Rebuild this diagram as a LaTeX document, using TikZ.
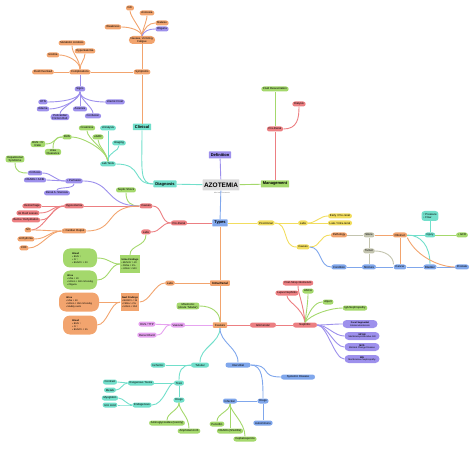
\documentclass[tikz,border=0pt]{standalone}
\usepackage{fontspec}
\setmainfont{Liberation Sans}
\usepackage{amsmath,amssymb}
\usetikzlibrary{shapes.geometric,arrows.meta,calc}
\definecolor{cOrange}{HTML}{F2A46E}
\definecolor{cPurple}{HTML}{9D90EC}
\definecolor{cTeal}{HTML}{72DFCB}
\definecolor{cGreen}{HTML}{A4D86C}
\definecolor{cRed}{HTML}{EC7F82}
\definecolor{cYellow}{HTML}{F2DD5E}
\definecolor{cBlue}{HTML}{80A7EC}
\definecolor{cGray}{HTML}{C3C4AF}
\definecolor{cPink}{HTML}{E6A3F0}
\definecolor{cCore}{HTML}{DADADA}
\newcommand{\arrup}{↑}
\newcommand{\arrdn}{↓}

\begin{document}
\begin{tikzpicture}[x=1pt, y=-1pt,
        leaf/.style={
            rectangle,
            rounded corners=2.4pt,
            inner xsep=1.8pt, inner ysep=0.5pt,
            minimum height=5pt,
            font=\fontsize{2.8}{3.2}\selectfont,
            align=center
        },
        hub/.style={
            rectangle,
            rounded corners=0.6pt,
            inner xsep=2pt, inner ysep=0.8pt,
            minimum height=7pt,
            font=\fontsize{4}{4.5}\selectfont\bfseries
        },
        bubble/.style={
            rectangle, rounded corners=7pt,
            inner xsep=3.5pt, inner ysep=1.5pt,
            minimum width=34pt, minimum height=19pt,
            font=\fontsize{2.4}{3}\selectfont, align=left
        },
        listbox/.style={
            rectangle, inner xsep=1.5pt, inner ysep=1.5pt,
            minimum height=18pt,
            font=\fontsize{2.4}{3}\selectfont, align=left
        },
        pill/.style={
            rectangle, rounded corners=4pt,
            inner xsep=3pt, inner ysep=0.8pt,
            minimum width=35pt, minimum height=8pt,
            font=\fontsize{2.3}{2.8}\selectfont, align=center
        },
        orleaf/.style={leaf, fill=cOrange},
        puleaf/.style={leaf, fill=cPurple},
        teleaf/.style={leaf, fill=cTeal},
        grleaf/.style={leaf, fill=cGreen},
        releaf/.style={leaf, fill=cRed},
        yeleaf/.style={leaf, fill=cYellow},
        blleaf/.style={leaf, fill=cBlue},
        gyleaf/.style={leaf, fill=cGray},
        pkleaf/.style={leaf, fill=cPink},
        link/.style={line width=0.9pt},
        orline/.style={link, draw=cOrange},
        puline/.style={link, draw=cPurple},
        teline/.style={link, draw=cTeal},
        grline/.style={link, draw=cGreen},
        reline/.style={link, draw=cRed},
        yeline/.style={link, draw=cYellow},
        blline/.style={link, draw=cBlue},
        gyline/.style={link, draw=cGray},
        pkline/.style={link, draw=cPink}
    ]
    \useasboundingbox (0,0) rectangle (474,449);

    % --- CORE ---
    \node[hub, fill=cCore, font=\fontsize{6.5}{7}\selectfont\bfseries, minimum height=11pt, inner xsep=1.5pt] (az) at (221,185) {AZOTEMIA};
    \node[font=\fontsize{1.6}{2}\selectfont, text=black!60] (azsub) at (222,193) {Mind map of azotemia};
    \node[hub, fill=cPurple] (defn) at (220,155) {Definition};
    \node[hub, fill=cTeal] (diag) at (165,184) {Diagnosis};
    \node[hub, fill=cGreen] (mgmt) at (275,184) {Management};
    \node[hub, fill=cBlue] (types) at (220,223) {Types};

    \draw[puline] (az) -- (defn);
    \draw[teline] (az) -- (diag);
    \draw[grline] (az) -- (mgmt);
    \draw[blline] (az) -- (types);

    % --- MANAGEMENT ---
    \node[releaf] (mpre) at (275,129) {Pre-Renal};
    \node[grleaf] (mfluid) at (275,89) {Fluid Resuscitation};
    \node[releaf] (mdial) at (299,104) {Dialysis};
    \draw[reline] (mpre) -- (mgmt);
    \draw[grline] (mpre) -- (mfluid);
    \draw[reline] (mpre.east) .. controls +(14,0) and +(0,12) .. (mdial.south);

    % --- DIAGNOSIS: CLINICAL ---
    \node[hub, fill=cTeal, minimum height=6.5pt] (clin) at (142,127) {Clinical};
    \draw[teline] (clin.south) .. controls +(0,40) and +(-14,0) .. (diag.west);

    \node[orleaf] (sympt) at (142,72) {Symptoms};
    \node[orleaf, rounded corners=4pt, minimum width=24pt, minimum height=8pt] (nvf) at (142,40) {Nausea, Vomiting,\\Fatigue};
    \node[orleaf] (itch) at (130,8) {Itch};
    \node[orleaf] (anorex) at (147,13) {Anorexia};
    \node[orleaf] (weak) at (113,27) {Weakness};
    \node[orleaf] (malaise) at (162,23) {Malaise};
    \node[puleaf] (olig) at (162,29) {Oliguria};
    \draw[orline] (clin) -- (sympt);
    \draw[orline] (sympt) -- (nvf);
    \draw[orline] (nvf.north) .. controls +(0,-6) and +(0,6) .. (itch.south);
    \draw[orline] (nvf.north) .. controls +(0,-5) and +(0,5) .. (anorex.south);
    \draw[orline] (nvf.north) .. controls +(-2,-6) and +(8,0) .. (weak.east);
    \draw[orline] (nvf.north) .. controls +(2,-8) and +(-6,0) .. (malaise.west);
    \draw[puline] (nvf.north) .. controls +(2,-5) and +(-6,0) .. (olig.west);

    \node[orleaf] (compl) at (80,72) {Complications};
    \node[orleaf] (fluidel) at (43,72) {Fluid Overload};
    \node[orleaf] (metac) at (72,43) {Metabolic Acidosis};
    \node[orleaf] (uremia) at (53,55) {Uremia};
    \node[orleaf] (hyperk) at (85,51) {Hyperkalemia};
    \draw[orline] (sympt) -- (compl);
    \draw[orline] (compl) -- (fluidel);
    \draw[orline] (compl.north) .. controls +(0,-10) and +(0,8) .. (metac.south);
    \draw[orline] (compl.north) .. controls +(0,-8) and +(8,0) .. (uremia.east);
    \draw[orline] (compl.north) .. controls +(0,-6) and +(0,6) .. (hyperk.south);

    \node[puleaf] (signs) at (80,89) {Signs};
    \node[puleaf] (htn) at (43,102) {HTN};
    \node[puleaf] (edema) at (43,109) {Edema};
    \node[puleaf] (pcr) at (60,117) {Pericardial\\Friction Rub};
    \node[puleaf] (aster) at (80,109) {Asterixis};
    \node[puleaf] (conf) at (93,116) {Confusion};
    \node[puleaf] (frost) at (115,102) {Uremic Frost};
    \draw[puline] (compl) -- (signs);
    \draw[puline] (signs.south) .. controls +(0,8) and +(12,0) .. (htn.east);
    \draw[puline] (signs.south) .. controls +(0,8) and +(12,0) .. (edema.east);
    \draw[puline] (signs.south) .. controls +(0,8) and +(0,-6) .. (pcr.north);
    \draw[puline] (signs) -- (aster);
    \draw[puline] (signs.south) .. controls +(0,8) and +(0,-6) .. (conf.north);
    \draw[puline] (signs.south) .. controls +(0,8) and +(-10,0) .. (frost.west);

    % --- DIAGNOSIS: LABS ---
    \node[teleaf] (dlabs) at (108,164) {Lab Tests};
    \node[teleaf] (dua) at (108,128) {Urinalysis};
    \node[teleaf] (dimg) at (119,143) {Imaging};
    \node[grleaf] (dcr) at (87,128) {Creatinine};
    \node[grleaf] (dbun) at (67,137) {BUN};
    \node[grleaf] (dgfr) at (98,137) {eGFR};
    \node[grleaf] (dbun1) at (38,144) {BUN : Cr\\Ratio};
    \node[grleaf] (dbun2) at (53,152) {Urea\\Clearance};
    \node[grleaf] (dnote) at (15,159) {Hepatorenal\\Syndrome};
    \draw[teline] (dlabs.east) .. controls +(28,0) and +(-22,0) .. (diag.west);
    \draw[teline] (dlabs) -- (dua);
    \draw[teline] (dlabs.north) .. controls +(0,-10) and +(0,6) .. (dimg.south);
    \draw[grline] (dlabs.north) .. controls +(-2,-12) and +(0,8) .. (dcr.south);
    \draw[grline] (dlabs.north) .. controls +(-2,-12) and +(10,0) .. (dbun.east);
    \draw[grline] (dlabs.north) .. controls +(-2,-10) and +(0,6) .. (dgfr.south);
    \draw[grline] (dbun.west) .. controls +(-8,0) and +(10,0) .. (dbun1.east);
    \draw[grline] (dbun.west) .. controls +(-8,0) and +(0,-6) .. (dbun2.north);

    % --- PRE-RENAL ---
    \node[releaf] (prer) at (179,223) {Pre-Renal};
    \node[releaf] (prec) at (146,206) {Causes};
    \node[releaf] (prel) at (146,232) {Labs};
    \draw[reline] (types) -- (prer);
    \draw[reline] (prer.west) .. controls +(-10,0) and +(10,0) .. (prec.east);
    \draw[reline] (prer.west) .. controls +(-10,0) and +(10,0) .. (prel.east);

    \node[grleaf] (septic) at (126,190) {Septic Shock};
    \node[puleaf] (renal) at (74,181) {\arrdn\ Perfusion};
    \node[puleaf] (cirr) at (35,173) {Cirrhosis};
    \node[puleaf] (nsaid) at (35,180) {NSAIDs / ACEi};
    \node[puleaf] (drug) at (57,193) {Renal A. Stenosis};
    \node[releaf] (hypov) at (74,206) {Hypovolemia};
    \node[releaf] (hem) at (32,206) {Hemorrhage};
    \node[releaf] (gi) at (28,213) {GI Fluid Losses};
    \node[releaf] (burn) at (26,220) {Burns / Dehydration};
    \node[orleaf] (lowco) at (74,231) {\arrdn\ Cardiac Output};
    \node[orleaf] (mi) at (28,230) {MI};
    \node[orleaf] (arr) at (26,239) {Arrhythmia};
    \node[orleaf] (chf) at (24,248) {CHF};
    \draw[grline] (septic.south) .. controls +(0,10) and +(-8,0) .. (prec.west);
    \draw[puline] (prec.west) .. controls +(-35,0) and +(30,0) .. (renal.east);
    \draw[reline] (prec) -- (hypov);
    \draw[orline] (prec.west) .. controls +(-35,0) and +(30,0) .. (lowco.east);
    \draw[puline] (renal.west) .. controls +(-10,0) and +(10,0) .. (cirr.east);
    \draw[puline] (renal.west) .. controls +(-10,0) and +(10,0) .. (nsaid.east);
    \draw[puline] (renal.south) .. controls +(0,6) and +(0,-4) .. (drug.north);
    \draw[grline] (dnote.south) .. controls +(0,10) and +(-6,0) .. (cirr.west);
    \draw[reline] (hypov) -- (hem);
    \draw[reline] (hypov.west) .. controls +(-12,0) and +(12,0) .. (gi.east);
    \draw[reline] (hypov.west) .. controls +(-12,0) and +(12,0) .. (burn.east);
    \draw[reline] (hypov.west) .. controls +(-12,0) and +(12,0) .. (mi.east);
    \draw[orline] (lowco.west) .. controls +(-12,0) and +(12,0) .. (mi.east);
    \draw[orline] (lowco.west) .. controls +(-12,0) and +(12,0) .. (arr.east);
    \draw[orline] (lowco.west) .. controls +(-12,0) and +(12,0) .. (chf.east);

    \node[listbox, fill=cGreen] (ufind) at (130,264) {\textbf{Urine Findings}\\\textbullet\ BUN/Cr > 20\\\textbullet\ FENa < 1\%\\\textbullet\ UOsm > 500};
    \node[bubble, fill=cGreen] (ublood) at (80,258) {\textbf{Blood}\\\textbullet\ BUN \arrup\\\textbullet\ Cr \arrup\\\textbullet\ BUN/Cr > 20};
    \node[bubble, fill=cGreen] (uurine) at (80,280) {\textbf{Urine}\\\textbullet\ UNa < 20\\\textbullet\ UOsm > 500 mOsm/kg\\\textbullet\ Oliguria};
    \draw[grline] (prel.south) .. controls +(0,12) and +(0,-10) .. (ufind.north);
    \draw[grline] (ublood.east) .. controls +(12,0) and +(-10,0) .. (ufind.west);
    \draw[grline] (uurine.east) .. controls +(12,0) and +(-10,0) .. (ufind.west);

    % --- INTRA-RENAL ---
    \node[hub, fill=cOrange, font=\fontsize{3}{3.5}\selectfont\bfseries, minimum height=5.5pt] (intra) at (220,283) {Intra-Renal};
    \node[orleaf] (ilabs) at (170,283) {Labs};
    \node[listbox, fill=cOrange] (ifind) at (130,302) {\textbf{Next Findings}\\\textbullet\ BUN/Cr < 15\\\textbullet\ FENa > 2\%\\\textbullet\ UOsm < 350};
    \node[bubble, fill=cOrange, minimum width=40pt] (iurine) at (79,302) {\textbf{Urine}\\\textbullet\ UNa > 40\\\textbullet\ UOsm < 350 mOsm/kg\\\textbullet\ Muddy casts};
    \node[bubble, fill=cOrange] (iblood) at (80,325) {\textbf{Blood}\\\textbullet\ BUN \arrup\\\textbullet\ Cr \arrup\\\textbullet\ BUN/Cr < 15};
    \draw[orline] (types) -- (intra);
    \draw[orline] (intra) -- (ilabs);
    \draw[orline] (ilabs.west) .. controls +(-10,0) and +(10,0) .. (ifind.east);
    \draw[orline] (iurine.east) .. controls +(10,0) and +(-10,0) .. (ifind.west);
    \draw[orline] (iblood.east) .. controls +(10,0) and +(-10,0) .. (ifind.west);

    \node[hub, fill=cOrange, font=\fontsize{3}{3.5}\selectfont, minimum height=5.5pt] (icause) at (220,325) {Causes};
    \node[grleaf] (mnem) at (188,306) {Mnemonic\\(Acute Tubular)};
    \draw[orline] (intra) -- (icause);
    \draw[grline] (mnem.east) .. controls +(12,0) and +(0,-10) .. (icause.north);

    \node[pkleaf] (vasc) at (178,325) {Vascular};
    \node[pkleaf] (v1) at (147,324) {HUS / TTP};
    \node[pkleaf] (v2) at (147,335) {Renal Infarct};
    \draw[pkline] (icause) -- (vasc);
    \draw[pkline] (vasc) -- (v1);
    \draw[pkline] (vasc.west) .. controls +(-8,0) and +(8,0) .. (v2.east);

    \node[releaf, minimum width=26pt] (glom) at (263,325) {Glomerular};
    \node[releaf, minimum width=24pt] (neph) at (305,325) {Nephritic};
    \node[releaf] (psgn) at (298,283) {Post-Strep Glomerulo};
    \node[releaf] (lupus) at (287,293) {Lupus Nephritis};
    \node[grleaf] (anca) at (308,291) {ANCA};
    \node[grleaf] (alport) at (328,302) {Alport};
    \node[grleaf] (igan) at (355,308) {IgA Nephropathy};
    \node[pill, fill=cPurple] (fsgs) at (360,324) {\textbf{Focal Segmental}\\Glomerulosclerosis};
    \node[pill, fill=cPurple] (mpgn) at (362,336) {\textbf{MPGN}\\Membranoproliferative GN};
    \node[pill, fill=cPurple] (mcd) at (362,347) {\textbf{MCD}\\Minimal Change Disease};
    \node[pill, fill=cPurple] (mn) at (362,359) {\textbf{MN}\\Membranous Nephropathy};
    \draw[reline] (icause) -- (glom);
    \draw[reline] (glom) -- (neph);
    \draw[reline] (neph.north) .. controls +(-2,-20) and +(0,8) .. (psgn.south);
    \draw[reline] (neph.north) .. controls +(-2,-14) and +(0,6) .. (lupus.south);
    \draw[grline] (neph.north) .. controls +(2,-14) and +(0,6) .. (anca.south);
    \draw[grline] (neph.north) .. controls +(4,-10) and +(-8,0) .. (alport.west);
    \draw[grline] (neph.north) .. controls +(6,-8) and +(-12,0) .. (igan.west);
    \draw[puline] (neph.east) .. controls +(10,0) and +(-10,0) .. (fsgs.west);
    \draw[puline] (neph.east) .. controls +(10,0) and +(-10,0) .. (mpgn.west);
    \draw[puline] (neph.east) .. controls +(10,0) and +(-10,0) .. (mcd.west);
    \draw[puline] (neph.east) .. controls +(10,0) and +(-10,0) .. (mn.west);

    % --- TUBULAR / INTERSTITIAL ---
    \node[teleaf, minimum width=18pt] (tub) at (200,365) {Tubular};
    \node[blleaf, minimum width=25pt] (intst) at (238,365) {Interstitial};
    \draw[teline] (icause.south) .. controls +(0,15) and +(0,-15) .. (tub.north);
    \draw[blline] (icause.south) .. controls +(0,15) and +(0,-15) .. (intst.north);

    \node[teleaf] (isch) at (158,365) {Ischemic};
    \node[teleaf] (toxic) at (179,383) {Toxic};
    \node[teleaf] (tdrugs) at (179,400) {Drugs};
    \node[teleaf] (exo) at (141,383) {Exogenous Toxins};
    \node[teleaf] (endo) at (142,405) {Endogenous};
    \node[teleaf] (contrast) at (110,382) {Contrast};
    \node[teleaf] (metals) at (110,390) {Metals};
    \node[teleaf] (myo) at (110,398) {Myoglobin};
    \node[teleaf] (uric) at (110,405) {Uric Acid};
    \node[grleaf] (amino) at (167,423) {Aminoglycosides (toxicity)};
    \node[grleaf] (ampho) at (189,431) {Amphotericin B};
    \draw[teline] (tub) -- (isch);
    \draw[teline] (tub.west) .. controls +(-10,0) and +(0,-8) .. (toxic.north);
    \draw[teline] (toxic) -- (tdrugs);
    \draw[teline] (toxic) -- (exo);
    \draw[teline] (toxic.west) .. controls +(-6,0) and +(12,0) .. (endo.east);
    \draw[teline] (exo.west) .. controls +(-5,0) and +(5,0) .. (contrast.east);
    \draw[teline] (exo.west) .. controls +(-5,0) and +(5,0) .. (metals.east);
    \draw[teline] (endo.west) .. controls +(-5,0) and +(5,0) .. (myo.east);
    \draw[teline] (endo.west) .. controls +(-5,0) and +(5,0) .. (uric.east);
    \draw[grline] (tdrugs.south) .. controls +(0,8) and +(0,-8) .. (amino.north);
    \draw[grline] (tdrugs.south) .. controls +(0,8) and +(0,-12) .. (ampho.north);

    \node[blleaf, minimum width=34pt] (sysd) at (298,377) {Systemic Disease};
    \node[blleaf] (idrugs) at (263,401) {Drugs};
    \node[blleaf] (infect) at (230,401) {Infection};
    \node[blleaf] (autoimm) at (263,423) {Autoimmune};
    \node[grleaf] (penic) at (217,424) {Penicillin};
    \node[grleaf] (nsaid2) at (230,431) {NSAIDs (NSAIDs)};
    \node[grleaf] (diur) at (245,439) {Cephalosporins};
    \draw[blline] (intst.east) .. controls +(22,0) and +(-22,0) .. (sysd.west);
    \draw[blline] (intst.east) .. controls +(12,0) and +(0,-18) .. (idrugs.north);
    \draw[blline] (idrugs) -- (infect);
    \draw[blline] (idrugs) -- (autoimm);
    \draw[grline] (infect.south) .. controls +(0,8) and +(0,-8) .. (penic.north);
    \draw[grline] (infect) -- (nsaid2);
    \draw[grline] (infect.south) .. controls +(0,8) and +(0,-14) .. (diur.north);

    % --- POST-RENAL ---
    \node[yeleaf] (postr) at (266,223) {Post-Renal};
    \node[yeleaf] (plists) at (303,223) {Labs};
    \node[yeleaf] (early) at (340,216) {Early / Pre-renal};
    \node[yeleaf] (late) at (340,223) {Late / Intra-renal};
    \node[yeleaf] (pcause) at (303,247) {Causes};
    \draw[yeline] (types) -- (postr);
    \draw[yeline] (postr) -- (plists);
    \draw[yeline] (plists.east) .. controls +(8,0) and +(-8,0) .. (early.west);
    \draw[yeline] (plists) -- (late);
    \draw[yeline] (postr.east) .. controls +(14,0) and +(-14,0) .. (pcause.west);

    \node[orleaf] (path) at (339,235) {Pathology};
    \node[gyleaf] (pstone) at (369,235) {Stone};
    \node[orleaf] (pobst) at (400,235) {Obstruct};
    \node[teleaf] (pinj) at (430,235) {Injury};
    \node[grleaf] (pgfr) at (462,235) {\arrdn\ GFR};
    \node[teleaf, rounded corners=3pt, align=left, minimum height=10pt] (pnote) at (430,216) {\arrup\ Pressure\\\arrdn\ Flow};
    \node[gyleaf] (pgray2) at (369,251) {Tumor};
    \draw[yeline] (pcause.east) .. controls +(12,0) and +(-12,0) .. (path.west);
    \draw[gyline] (path) -- (pstone);
    \draw[orline] (pstone) -- (pobst);
    \draw[teline] (pobst) -- (pinj);
    \draw[grline] (pinj) -- (pgfr);
    \draw[teline] (pinj) -- (pnote);
    \draw[gyline] (pstone) -- (pgray2);

    \node[blleaf] (cond) at (339,267) {Condition};
    \node[blleaf] (c2) at (369,267) {Stricture};
    \node[blleaf] (c3) at (400,267) {Cancer};
    \node[blleaf] (c4) at (430,267) {Bladder};
    \node[blleaf] (c5) at (462,267) {Prostate};
    \draw[blline] (pcause.east) .. controls +(12,0) and +(-12,0) .. (cond.west);
    \draw[blline] (cond) -- (c2);
    \draw[blline] (c2) -- (c3);
    \draw[blline] (c3) -- (c4);
    \draw[blline] (c4) -- (c5);
    \draw[gyline] (pgray2) -- (c2);
    \draw[gyline] (pgray2.east) .. controls +(10,0) and +(0,-8) .. (c3.north west);
    \draw[orline] (pobst) -- (c3);
    \draw[teline] (pobst.east) .. controls +(14,0) and +(0,-18) .. (c4.north);
    \draw[orline] (pobst.south east) .. controls +(10,20) and +(-14,0) .. (c5.west);
\end{tikzpicture}
\end{document}
